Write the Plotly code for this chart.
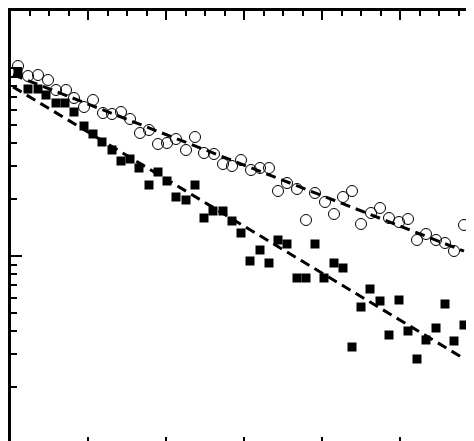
import numpy as np
import plotly.graph_objects as go

# values (x in arbitrary units, y on log scale)
open_x = [10,20,30,40,48,58,66,76,85,95,104,113,122,132,141,150,159,168,178,187,196,206,215,224,233,243,252,261,270,279,289,298,307,317,326,335,344,353,363,372,381,391,400,409,418,428,437,446,456]
open_py = [58,68,67,72,82,82,90,99,92,105,106,104,111,125,122,136,135,131,142,129,145,146,156,158,152,162,160,160,183,175,181,212,185,194,206,189,183,216,205,200,210,214,211,232,226,232,235,243,217]
fill_x = [10,20,30,38,48,57,66,76,85,94,104,113,122,131,141,150,159,168,178,187,196,205,215,224,233,242,252,261,270,279,289,298,307,316,326,335,344,353,362,372,381,391,400,409,418,428,437,446,456]
fill_py = [65,81,81,87,95,95,104,118,126,134,142,153,151,160,177,164,173,189,192,177,210,203,203,213,225,253,242,255,232,236,270,270,236,270,255,260,339,299,281,293,327,292,323,351,332,320,296,333,317]

open_y = [10 ** ((248 - p) / 188) for p in open_py]
fill_y = [10 ** ((248 - p) / 188) for p in fill_py]

fig = go.Figure()
fig.add_trace(go.Scatter(x=open_x, y=open_y, mode="markers",
                         marker=dict(symbol="circle-open", size=11, color="black", line=dict(width=1))))
fig.add_trace(go.Scatter(x=fill_x, y=fill_y, mode="markers",
                         marker=dict(symbol="square", size=9, color="black")))
for xs, ys in [(open_x, open_y), (fill_x, fill_y)]:
    k, b = np.polyfit(xs, np.log10(ys), 1)
    lx = np.array([5, 456])
    fig.add_trace(go.Scatter(x=lx, y=10 ** (k * lx + b), mode="lines",
                             line=dict(color="black", width=3, dash="10px,6px")))

ax = dict(showline=True, linecolor="black", linewidth=4, mirror="ticks", ticks="inside",
          showticklabels=False, showgrid=False, zeroline=False, tickcolor="black", tickwidth=2)
fig.update_xaxes(**ax, range=[3, 471], tick0=80, dtick=78, ticklen=9,
                 minor=dict(ticks="inside", dtick=19.5, tick0=2, ticklen=5, tickcolor="black", tickwidth=2))
fig.update_yaxes(**ax, type="log", range=[(248 - 438) / 188, (248 - 3) / 188], dtick=1, ticklen=11,
                 minor=dict(ticks="inside", dtick="D1", ticklen=6, tickcolor="black", tickwidth=2))
fig.update_layout(width=474, height=441, margin=dict(l=3, r=3, t=3, b=3, autoexpand=False),
                  showlegend=False, plot_bgcolor="white", paper_bgcolor="white")
fig.write_html("out.html")
